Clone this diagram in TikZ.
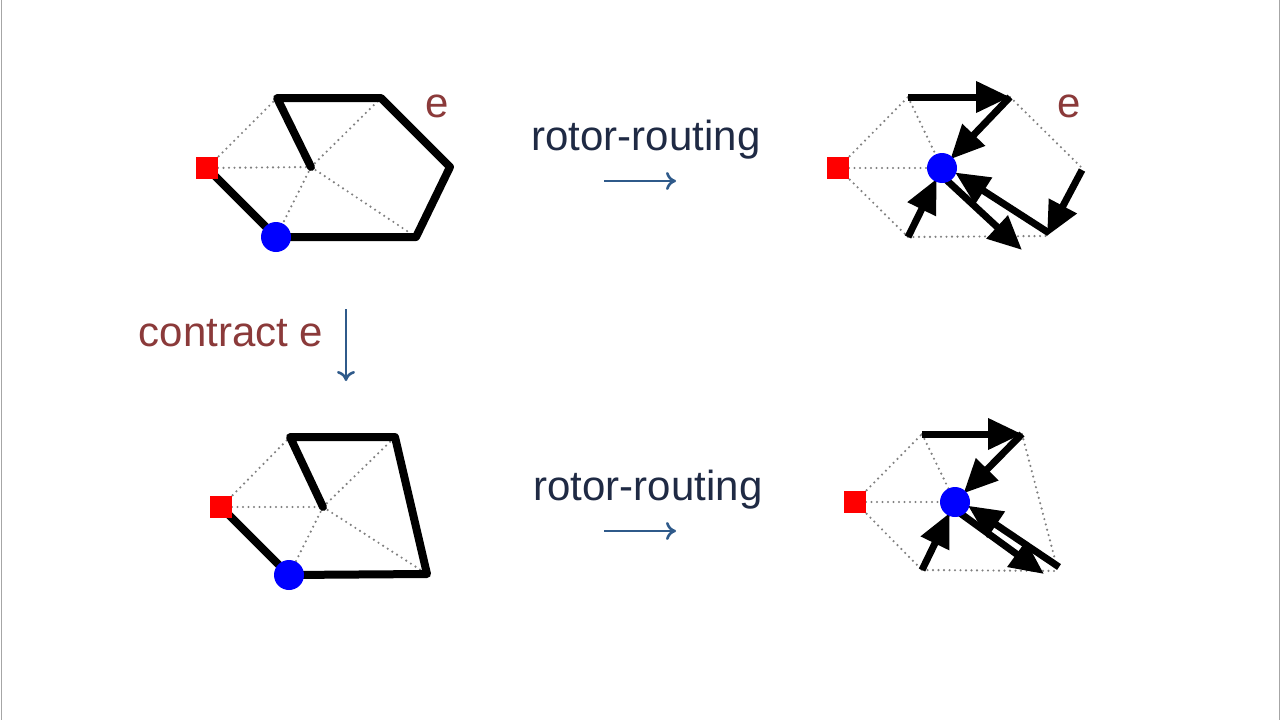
\documentclass[tikz,border=0pt]{standalone}
\usepackage{fontspec}
\setmainfont{Liberation Sans}
\usetikzlibrary{arrows.meta}
\definecolor{brn}{HTML}{8B3A3A}
\definecolor{navy}{HTML}{1F2A44}
\definecolor{arblue}{HTML}{2F5A8A}
\begin{document}
\begin{tikzpicture}[x=1pt,y=-1pt,
  dot/.style={draw=gray,line width=2.4pt,line cap=round,dash pattern=on 0pt off 5.5pt},
  solid edge/.style={draw=black,line width=8pt,line cap=round,line join=round},
  rot/.style={draw=black,line width=7pt,-{Triangle[length=34pt,width=30pt]}},
  sink/.style={fill=red,minimum size=22pt,inner sep=0pt},
  chip/.style={circle,fill=blue,minimum size=30pt,inner sep=0pt},
  lab/.style={font=\fontsize{42}{46}\selectfont},
  thinarr/.style={draw=arblue,line width=2.6pt,-{To[length=10pt,width=18pt]}}]
\useasboundingbox (0,0) rectangle (1280,720);
\fill[white] (0,0) rectangle (1280,720);
\draw[gray!70,line width=1pt] (1,0)--(1,720) (1279,0)--(1279,720);
% top-left
\coordinate (tlS) at (207,168); \coordinate (tlA) at (277,98); \coordinate (tlC) at (381,98);
\coordinate (tlO) at (311,167); \coordinate (tlD) at (450,167); \coordinate (tlE) at (416,237); \coordinate (tlB) at (276,237);
\draw[dot] (tlS)--(tlA) (tlS)--(tlO) (tlO)--(tlC) (tlO)--(tlE) (tlO)--(tlB);
\draw[solid edge] (tlS)--(tlB)--(tlE)--(tlD)--(tlC)--(tlA)--(tlO);
\node[sink] (tlsink) at (tlS) {};
\node[chip] (tlchip) at (tlB) {};
\node[lab,text=brn] (e1) at (437,106) {e};
% bottom-left
\coordinate (blS) at (221,507); \coordinate (blA) at (290,437); \coordinate (blC) at (395,437);
\coordinate (blO) at (323,507); \coordinate (blE) at (427,574); \coordinate (blB) at (289,575);
\draw[dot] (blS)--(blA) (blS)--(blO) (blO)--(blC) (blO)--(blE) (blO)--(blB);
\draw[solid edge] (blS)--(blB)--(blE)--(blC)--(blA)--(blO);
\node[sink] (blsink) at (blS) {};
\node[chip] (blchip) at (blB) {};
% top-right
\coordinate (trS) at (838,168); \coordinate (trA) at (908,97); \coordinate (trC) at (1010,97);
\coordinate (trO) at (942,168); \coordinate (trD) at (1082,168); \coordinate (trE) at (1047,236); \coordinate (trB) at (908,237);
\coordinate (trO2) at (945,166); \coordinate (trE2) at (1049,233);
\coordinate (trOs) at (940,174); \coordinate (trX) at (1022,250); \coordinate (trD2) at (1082,170);
\draw[dot] (trS)--(trA) (trS)--(trO) (trS)--(trB) (trA)--(trO) (trC)--(trD) (trB)--(trE);
\node[sink] (trsink) at (trS) {};
\draw[rot] (trA)--(trC);
\draw[rot,shorten >=12pt] (trC)--(trO);
\draw[rot,shorten >=12pt] (trB)--(trO);
\draw[rot] (trD2)--(trE);
\draw[rot,shorten >=12pt] (trE2)--(trO2);
\draw[rot] (trOs)--(trX);
\node[chip] (trchip) at (trO) {};
\node[lab,text=brn] (e2) at (1069,106) {e};
% bottom-right
\coordinate (brS) at (855,502); \coordinate (brA) at (922,434); \coordinate (brC) at (1022,434);
\coordinate (brO) at (955,502); \coordinate (brE) at (1058,571); \coordinate (brB) at (922,570);
\coordinate (brO2) at (958,499); \coordinate (brE2) at (1059,567);
\coordinate (brOs) at (953,508); \coordinate (brX) at (1044,574);
\draw[dot] (brS)--(brA) (brS)--(brO) (brS)--(brB) (brA)--(brO) (brC)--(brE) (brB)--(brE);
\node[sink] (brsink) at (brS) {};
\draw[rot] (brA)--(brC);
\draw[rot,shorten >=12pt] (brC)--(brO);
\draw[rot,shorten >=12pt] (brB)--(brO);
\draw[rot,shorten >=12pt] (brE2)--(brO2);
\draw[rot] (brOs)--(brX);
\node[chip] (brchip) at (brO) {};
% labels
\node[lab,text=navy] (rr1) at (646,140) {rotor-routing};
\coordinate (a1s) at (604,181); \coordinate (a1e) at (676,181);
\draw[thinarr] (a1s)--(a1e);
\node[lab,text=navy] (rr2) at (648,490) {rotor-routing};
\coordinate (a2s) at (604,531); \coordinate (a2e) at (676,531);
\draw[thinarr] (a2s)--(a2e);
\node[lab,text=brn] (ce) at (231,333) {contract e};
\coordinate (a3s) at (346,309); \coordinate (a3e) at (346,381);
\draw[thinarr] (a3s)--(a3e);
\end{tikzpicture}
\end{document}
